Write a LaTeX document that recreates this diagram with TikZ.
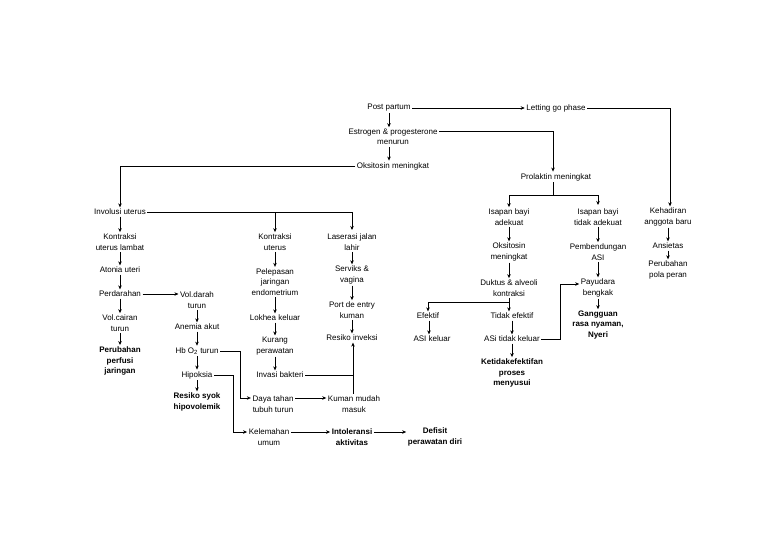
\documentclass[tikz,border=0pt]{standalone}
\usepackage{fontspec}
\setmainfont{Liberation Sans}
\usetikzlibrary{arrows.meta}
\begin{document}
\begin{tikzpicture}[x=1pt,y=-1pt,
  every node/.style={font=\fontsize{8}{10.5}\selectfont,align=center,inner sep=1.5pt},
  bn/.style={font=\fontsize{8}{10.5}\selectfont\bfseries},
  ar/.style={-{Stealth[length=4pt,width=3.5pt]},line width=0.6pt},
  ln/.style={line width=0.6pt}]
\useasboundingbox (0,0) rectangle (768,543);
% top
\node (pp) at (389,108) {Post partum};
\node (lg) at (556,108) {Letting go phase};
\node (es) at (393,137) {Estrogen \& progesterone\\menurun};
\node (ok) at (393,166) {Oksitosin meningkat};
\node (pr) at (556,177) {Prolaktin meningkat};
\draw[ar] (pp) -- (lg);
\draw[ar] (pp.south -| 389,0) -- (es.north -| 389,0);
\draw[ar] (es.south -| 389,0) -- (ok.north -| 389,0);
\draw[ar] (es.east |- 0,131) -- (553,131) -- (pr.north -| 553,0);
% left
\node (inv) at (120,212) {Involusi uterus};
\draw[ar] (ok.west) -- (120,166) -- (inv.north);
\node (kul) at (120,242) {Kontraksi\\uterus lambat};
\node (at) at (120,270) {Atonia uteri};
\node (pd) at (120,294) {Perdarahan};
\node (vc) at (120,323) {Vol.cairan\\turun};
\node[bn] (ppj) at (120,361) {Perubahan\\perfusi\\jaringan};
\draw[ar] (inv) -- (kul);
\draw[ar] (kul) -- (at);
\draw[ar] (at) -- (pd);
\draw[ar] (pd) -- (vc);
\draw[ar] (vc) -- (ppj);
\node (vd) at (197,300) {Vol.darah\\turun};
\node (an) at (197,327) {Anemia akut};
\node (hb) at (197,351) {Hb O\textsubscript{2} turun};
\node (hi) at (197,375) {Hipoksia};
\node[bn] (rs) at (197,402) {Resiko syok\\hipovolemik};
\draw[ar] (pd.east) -- (vd.west |- pd.east);
\draw[ar] (vd) -- (an);
\draw[ar] (an) -- (hb);
\draw[ar] (hb) -- (hi);
\draw[ar] (hi) -- (rs);
\node (ku) at (275,242) {Kontraksi\\uterus};
\node (pje) at (275,282) {Pelepasan\\jaringan\\endometrium};
\node (lk) at (275,318) {Lokhea keluar};
\node (kp) at (275,346) {Kurang\\perawatan};
\node (ib) at (280,375) {Invasi bakteri};
\draw[ar] (inv.east) -- (352,212) -- (352,230);
\draw[ar] (275,212) -- (ku.north);
\draw[ar] (ku) -- (pje);
\draw[ar] (pje) -- (lk);
\draw[ar] (lk) -- (kp);
\draw[ar] (kp.south -| 275,0) -- (ib.north -| 275,0);
\node (lj) at (352,242) {Laserasi jalan\\lahir};
\node (sv) at (352,275) {Serviks \&\\vagina};
\node (pe) at (352,310) {Port de entry\\kuman};
\node (ri) at (352,338) {Resiko inveksi};
\draw[ar] (lj) -- (sv);
\draw[ar] (sv) -- (pe);
\draw[ar] (pe) -- (ri);
\node (dt) at (273,404) {Daya tahan\\tubuh turun};
\node (km) at (354,404) {Kuman mudah\\masuk};
\node (kl) at (269,437) {Kelemahan\\umum};
\node[bn] (ia) at (352,437) {Intoleransi\\aktivitas};
\node[bn] (dp) at (435,437) {Defisit\\perawatan diri};
\draw[ar] (hb.east) -- (240,351) -- (240,398) -- (dt.west |- 0,398);
\draw[ar] (hi.east) -- (233,375) -- (233,432) -- (kl.west |- 0,432);
\draw[ar] (dt.east |- 0,398) -- (km.west |- 0,398);
\draw[ar] (km.north -| 353,0) -- (ri.south -| 353,0);
\draw[ln] (ib.east) -- (353,375);
\draw[ar] (kl.east |- 0,432) -- (ia.west |- 0,432);
\draw[ar] (ia.east |- 0,432) -- (dp.west |- 0,432);
% right
\node (ia1) at (509,217) {Isapan bayi\\adekuat};
\node (ok2) at (509,252) {Oksitosin\\meningkat};
\node (dk) at (509,288) {Duktus \& alveoli\\kontraksi};
\node (ef) at (428,316) {Efektif};
\node (te) at (512,316) {Tidak efektif};
\node (ak) at (432,339) {ASI keluar};
\node (atk) at (512,339) {ASi tidak keluar};
\node[bn] (kpm) at (512,373) {Ketidakefektifan\\proses\\menyusui};
\draw[ar] (pr.south -| 553,0) -- (553,195) -- (509,195) -- (ia1.north);
\draw[ar] (553,195) -- (598,195) -- (598,205);
\draw[ar] (ia1) -- (ok2);
\draw[ar] (ok2) -- (dk);
\draw[ar] (dk.south) -- (te.north -| dk.south);
\draw[ar] (509,302) -- (428,302) -- (ef.north);
\draw[ar] (ef.south -| 429,0) -- (ak.north -| 429,0);
\draw[ar] (te) -- (atk);
\draw[ar] (atk) -- (kpm);
\node (it) at (598,217) {Isapan bayi\\tidak adekuat};
\node (pb) at (598,252) {Pembendungan\\ASI};
\node (pyb) at (598,288) {Payudara\\bengkak};
\node[bn] (gr) at (598,325) {Gangguan\\rasa nyaman,\\Nyeri};
\draw[ar] (it) -- (pb);
\draw[ar] (pb) -- (pyb);
\draw[ar] (pyb) -- (gr);
\draw[ar] (atk.east) -- (560,339) -- (560,284) -- (pyb.west |- 0,284);
\node (kh) at (668,217) {Kehadiran\\anggota baru};
\node (ans) at (668,246) {Ansietas};
\node (ppr) at (668,270) {Perubahan\\pola peran};
\draw[ar] (lg.east) -- (670,108) -- (kh.north -| 670,0);
\draw[ar] (kh) -- (ans);
\draw[ar] (ans) -- (ppr);
\end{tikzpicture}
\end{document}
